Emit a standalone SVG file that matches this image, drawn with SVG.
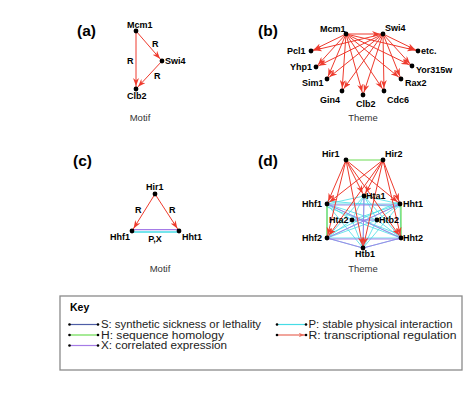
<svg xmlns="http://www.w3.org/2000/svg" width="474" height="404" viewBox="0 0 474 404">
<style>
.lbl{font-family:"Liberation Sans",Arial,sans-serif;font-weight:bold;font-size:9px;fill:#000}
.pan{font-family:"Liberation Sans",Arial,sans-serif;font-weight:bold;font-size:15.5px;fill:#000}
.cap{font-family:"Liberation Sans",Arial,sans-serif;font-size:9.5px;fill:#333;text-anchor:middle}
.key{font-family:"Liberation Sans",Arial,sans-serif;font-size:10px;fill:#222}
.r{stroke:#EE3B2E;stroke-width:1;fill:none;marker-end:url(#arr)}
.c{stroke:#46DCE6;stroke-width:0.8;fill:none}
.p{stroke:#A57BE6;stroke-width:0.9;fill:none}
.g{stroke:#6CDC52;stroke-width:1.2;fill:none}
.s{stroke:#4E5DA6;stroke-width:1.2;fill:none}
.dot{fill:#000}
</style>
<defs>
<marker id="arr" viewBox="0 0 8 6" refX="11" refY="3" markerWidth="8" markerHeight="6" markerUnits="userSpaceOnUse" orient="auto">
<path d="M0,0 L8,3 L0,6 L2.5,3 z" fill="#EE3B2E"/>
</marker>
<marker id="karr" viewBox="0 0 8 6" refX="10" refY="3" markerWidth="6" markerHeight="5" markerUnits="userSpaceOnUse" orient="auto">
<path d="M0,0 L8,3 L0,6 L2.5,3 z" fill="#E86A5A"/>
</marker>
</defs>
<rect width="474" height="404" fill="#fff"/>

<!-- panel labels -->
<text class="pan" x="77" y="36">(a)</text>
<text class="pan" x="258" y="36">(b)</text>
<text class="pan" x="73" y="166">(c)</text>
<text class="pan" x="258" y="166">(d)</text>

<!-- connectors -->
<g id="connectors">
<!-- (a) -->
<line class="r" x1="136" y1="31" x2="162" y2="61"/>
<line class="r" x1="136" y1="31" x2="136" y2="89"/>
<line class="r" x1="162" y1="61" x2="136" y2="89"/>
<!-- (b) -->
<line class="r" x1="346" y1="34" x2="383" y2="34"/>
<line class="r" x1="346" y1="34" x2="311" y2="51"/>
<line class="r" x1="346" y1="34" x2="316" y2="67"/>
<line class="r" x1="346" y1="34" x2="327" y2="79"/>
<line class="r" x1="346" y1="34" x2="342" y2="91"/>
<line class="r" x1="346" y1="34" x2="363" y2="95"/>
<line class="r" x1="346" y1="34" x2="384" y2="91"/>
<line class="r" x1="346" y1="34" x2="401" y2="79"/>
<line class="r" x1="346" y1="34" x2="412" y2="66"/>
<line class="r" x1="346" y1="34" x2="418" y2="51"/>
<line class="r" x1="383" y1="34" x2="311" y2="51"/>
<line class="r" x1="383" y1="34" x2="316" y2="67"/>
<line class="r" x1="383" y1="34" x2="327" y2="79"/>
<line class="r" x1="383" y1="34" x2="342" y2="91"/>
<line class="r" x1="383" y1="34" x2="363" y2="95"/>
<line class="r" x1="383" y1="34" x2="384" y2="91"/>
<line class="r" x1="383" y1="34" x2="401" y2="79"/>
<line class="r" x1="383" y1="34" x2="412" y2="66"/>
<line class="r" x1="383" y1="34" x2="418" y2="51"/>
<!-- (c) -->
<line class="p" x1="132" y1="229.6" x2="179" y2="229.6" style="stroke-width:1.3"/>
<line class="c" x1="132" y1="232" x2="179" y2="232" style="stroke-width:1.3"/>
<line class="r" x1="155" y1="194" x2="132" y2="231"/>
<line class="r" x1="155" y1="194" x2="179" y2="231"/>
<!-- (d) cyan physical interactions -->
<path class="c" d="M327,204 L400,204 M327,204 L364,196 M327,204 L352,220 M327,204 L377,220 M327,204 L327,238 M327,204 L401,238 M327,204 L363,248
M400,204 L364,196 M400,204 L352,220 M400,204 L377,220 M400,204 L327,238 M400,204 L401,238 M400,204 L363,248
M364,196 L352,220 M364,196 L377,220 M364,196 L327,238 M364,196 L401,238 M364,196 L363,248
M352,220 L377,220 M352,220 L327,238 M352,220 L401,238 M352,220 L363,248
M377,220 L327,238 M377,220 L401,238 M377,220 L363,248
M327,238 L401,238 M327,238 L363,248 M401,238 L363,248
M327,207 L401,235 M327,201 L400,207 M327,235 L400,201"/>
<!-- (d) purple correlated expression -->
<path class="p" d="M327,205 L400,205 M327,238 L363,248 M401,238 L363,248 M327,239 L401,239 M327,204 L401,238 M400,204 L327,238 M352,220 L377,220 M364,196 L363,248"/>
<!-- (d) green homology -->
<path class="g" d="M346,160 L383,160 M327,204 L327,238 M401,204 L401,238"/>
<!-- (d) red regulation -->
<line class="r" x1="346" y1="160" x2="327" y2="204"/>
<line class="r" x1="346" y1="160" x2="364" y2="196"/>
<line class="r" x1="346" y1="160" x2="400" y2="204"/>
<line class="r" x1="346" y1="160" x2="327" y2="238"/>
<line class="r" x1="346" y1="160" x2="363" y2="248"/>
<line class="r" x1="346" y1="160" x2="401" y2="238"/>
<line class="r" x1="383" y1="160" x2="327" y2="204"/>
<line class="r" x1="383" y1="160" x2="364" y2="196"/>
<line class="r" x1="383" y1="160" x2="400" y2="204"/>
<line class="r" x1="383" y1="160" x2="327" y2="238"/>
<line class="r" x1="383" y1="160" x2="363" y2="248"/>
<line class="r" x1="383" y1="160" x2="401" y2="238"/>
</g>

<!-- (a) nodes -->
<g id="a-Mcm1"><circle class="dot" cx="136" cy="31" r="2.4"/><text class="lbl" x="127" y="28">Mcm1</text></g>
<g id="a-Swi4"><circle class="dot" cx="162" cy="61" r="2.4"/><text class="lbl" x="165" y="64">Swi4</text></g>
<g id="a-Clb2"><circle class="dot" cx="136" cy="89" r="2.4"/><text class="lbl" x="127" y="99">Clb2</text></g>
<g id="a-labels">
<text class="lbl" x="127" y="64">R</text>
<text class="lbl" x="152" y="47">R</text>
<text class="lbl" x="154" y="79">R</text>
<text class="cap" x="140" y="121">Motif</text>
</g>

<!-- (b) nodes -->
<g id="b-Mcm1"><circle class="dot" cx="346" cy="34" r="2.4"/><text class="lbl" x="320" y="32">Mcm1</text></g>
<g id="b-Swi4"><circle class="dot" cx="383" cy="34" r="2.4"/><text class="lbl" x="385" y="31">Swi4</text></g>
<g id="b-Pcl1"><circle class="dot" cx="311" cy="51" r="2.4"/><text class="lbl" x="287" y="54">Pcl1</text></g>
<g id="b-Yhp1"><circle class="dot" cx="316" cy="67" r="2.4"/><text class="lbl" x="290" y="70">Yhp1</text></g>
<g id="b-Sim1"><circle class="dot" cx="327" cy="79" r="2.4"/><text class="lbl" x="302" y="86">Sim1</text></g>
<g id="b-Gin4"><circle class="dot" cx="342" cy="91" r="2.4"/><text class="lbl" x="320" y="103">Gin4</text></g>
<g id="b-Clb2"><circle class="dot" cx="363" cy="95" r="2.4"/><text class="lbl" x="356" y="107">Clb2</text></g>
<g id="b-Cdc6"><circle class="dot" cx="384" cy="91" r="2.4"/><text class="lbl" x="387" y="103">Cdc6</text></g>
<g id="b-Rax2"><circle class="dot" cx="401" cy="79" r="2.4"/><text class="lbl" x="405" y="86">Rax2</text></g>
<g id="b-Yor315w"><circle class="dot" cx="412" cy="66" r="2.4"/><text class="lbl" x="416" y="73">Yor315w</text></g>
<g id="b-etc"><circle class="dot" cx="418" cy="51" r="2.4"/><text class="lbl" x="421" y="54">etc.</text></g>
<text class="cap" x="363" y="121">Theme</text>

<!-- (c) nodes -->
<g id="c-Hir1"><circle class="dot" cx="155" cy="194" r="2.4"/><text class="lbl" x="146" y="190">Hir1</text></g>
<g id="c-Hhf1"><circle class="dot" cx="132" cy="231" r="2.4"/><text class="lbl" x="110" y="240">Hhf1</text></g>
<g id="c-Hht1"><circle class="dot" cx="179" cy="231" r="2.4"/><text class="lbl" x="182" y="240">Hht1</text></g>
<g id="c-labels">
<text class="lbl" x="135" y="213">R</text>
<text class="lbl" x="169" y="213">R</text>
<text class="lbl" x="155" y="242" text-anchor="middle">P,X</text>
<text class="cap" x="160" y="272">Motif</text>
</g>

<!-- (d) nodes -->
<g id="d-Hir1"><circle class="dot" cx="346" cy="160" r="2.4"/><text class="lbl" x="322" y="157">Hir1</text></g>
<g id="d-Hir2"><circle class="dot" cx="383" cy="160" r="2.4"/><text class="lbl" x="385" y="157">Hir2</text></g>
<g id="d-Hta1"><circle class="dot" cx="364" cy="196" r="2.4"/><text class="lbl" x="366" y="199">Hta1</text></g>
<g id="d-Hhf1"><circle class="dot" cx="327" cy="204" r="2.4"/><text class="lbl" x="302" y="207">Hhf1</text></g>
<g id="d-Hht1"><circle class="dot" cx="400" cy="204" r="2.4"/><text class="lbl" x="403" y="207">Hht1</text></g>
<g id="d-Hta2"><circle class="dot" cx="352" cy="220" r="2.4"/><text class="lbl" x="329" y="223">Hta2</text></g>
<g id="d-Htb2"><circle class="dot" cx="377" cy="220" r="2.4"/><text class="lbl" x="379" y="223">Htb2</text></g>
<g id="d-Hhf2"><circle class="dot" cx="327" cy="238" r="2.4"/><text class="lbl" x="302" y="241">Hhf2</text></g>
<g id="d-Hht2"><circle class="dot" cx="401" cy="238" r="2.4"/><text class="lbl" x="403" y="241">Hht2</text></g>
<g id="d-Htb1"><circle class="dot" cx="363" cy="248" r="2.4"/><text class="lbl" x="355" y="257">Htb1</text></g>
<text class="cap" x="363" y="272">Theme</text>

<!-- Key -->
<g id="key">
<rect x="60" y="296" width="402" height="74" fill="#fff" stroke="#8a8a8a" stroke-width="1.3"/>
<text x="70" y="311" style="font-family:'Liberation Sans',Arial,sans-serif;font-weight:bold;font-size:10.5px">Key</text>
<line class="s" x1="69.5" y1="324.5" x2="98" y2="324.5"/>
<circle class="dot" cx="69.5" cy="324.5" r="1.3"/><circle class="dot" cx="98" cy="324.5" r="1.3"/>
<text class="key" x="101" y="328" textLength="160" lengthAdjust="spacingAndGlyphs">S: synthetic sickness or lethality</text>
<line class="g" x1="69.5" y1="335" x2="98" y2="335"/>
<circle class="dot" cx="69.5" cy="335" r="1.3"/><circle class="dot" cx="98" cy="335" r="1.3"/>
<text class="key" x="101" y="338.5" textLength="123" lengthAdjust="spacingAndGlyphs">H: sequence homology</text>
<line class="p" x1="69.5" y1="345.5" x2="98" y2="345.5" style="stroke-width:1.2"/>
<circle class="dot" cx="69.5" cy="345.5" r="1.3"/><circle class="dot" cx="98" cy="345.5" r="1.3"/>
<text class="key" x="101" y="349" textLength="126" lengthAdjust="spacingAndGlyphs">X: correlated expression</text>
<line class="c" x1="277" y1="324.5" x2="306" y2="324.5" style="stroke-width:1.2"/>
<circle class="dot" cx="277" cy="324.5" r="1.3"/><circle class="dot" cx="306" cy="324.5" r="1.3"/>
<text class="key" x="308.5" y="328" textLength="144" lengthAdjust="spacingAndGlyphs">P: stable physical interaction</text>
<line x1="277" y1="335" x2="306" y2="335" stroke="#E86A5A" stroke-width="1.2" marker-end="url(#karr)"/>
<circle class="dot" cx="277" cy="335" r="1.3"/><circle class="dot" cx="306" cy="335" r="1.3"/>
<text class="key" x="308.5" y="338.5" textLength="148" lengthAdjust="spacingAndGlyphs">R: transcriptional regulation</text>
</g>
</svg>
